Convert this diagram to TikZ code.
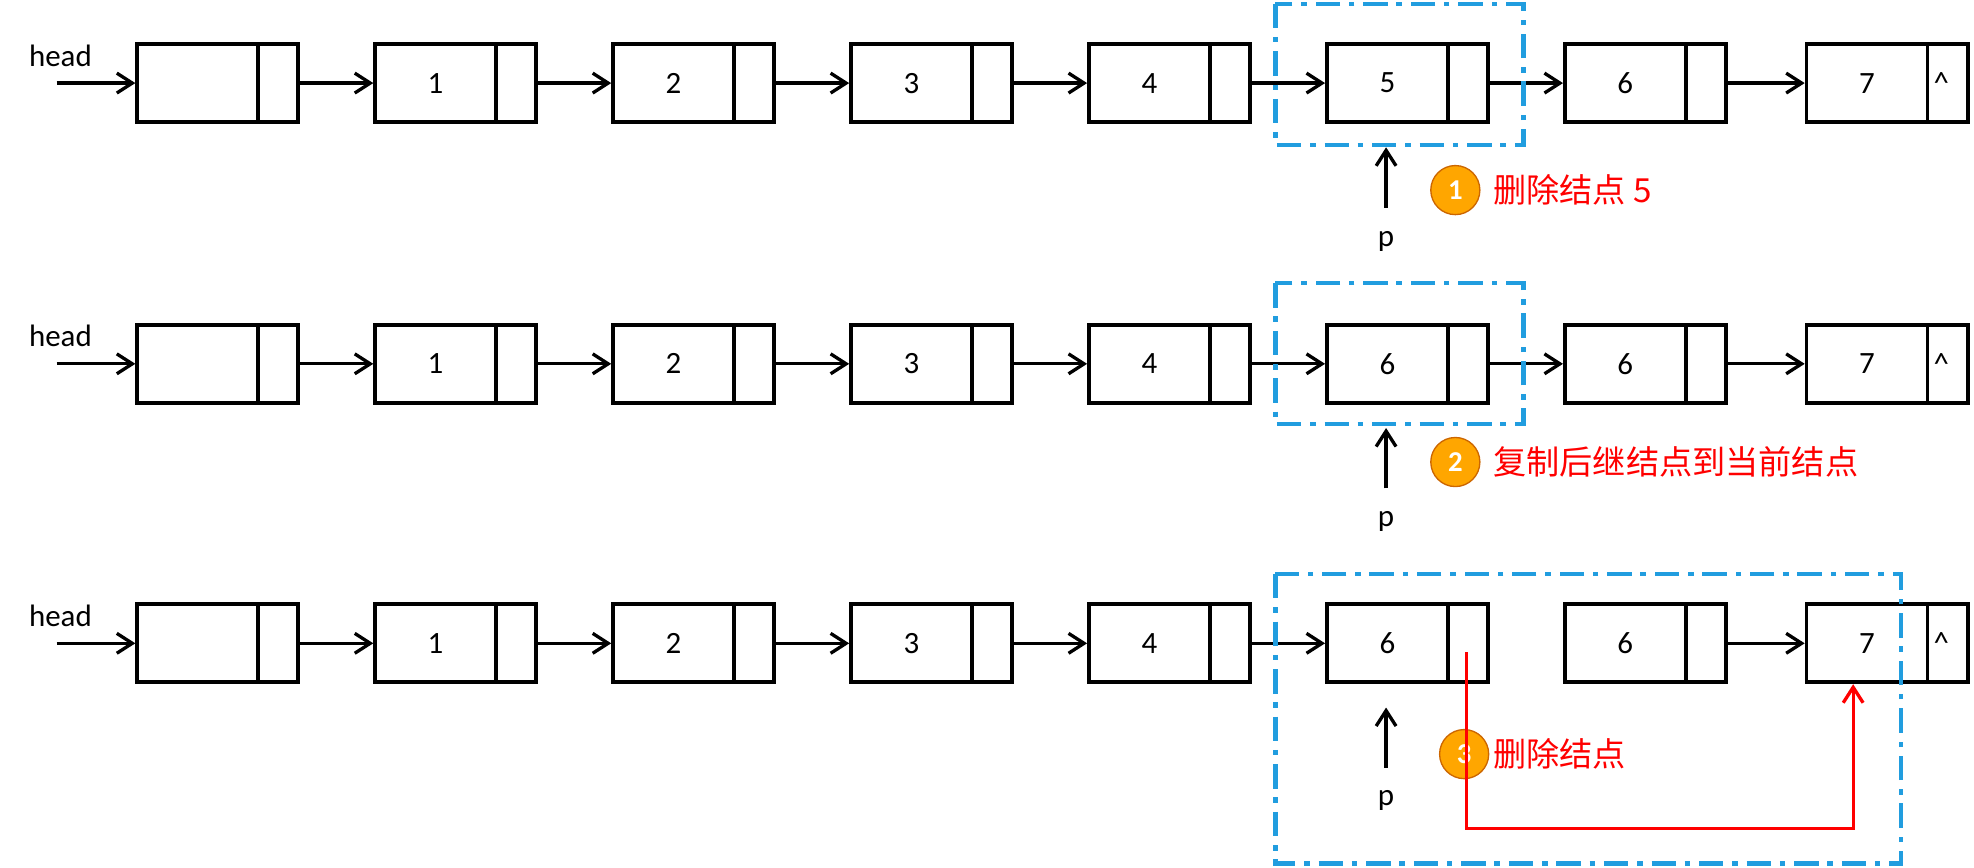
\documentclass[tikz,border=0pt]{standalone}
\usepackage{fontspec}
\setmainfont{Carlito}
\newfontfamily\cjk{Noto Sans CJK SC}
\usetikzlibrary{arrows.meta}
\begin{document}
\begin{tikzpicture}[x=0.02cm,y=-0.02cm,
  box/.style={draw,line width=1.7pt,minimum width=2.56cm,minimum height=1.24cm,inner sep=0pt},
  lnk/.style={line width=1.5pt,-{Straight Barb[length=7pt,width=9pt,line width=1.5pt]}},
  frame/.style={draw=cyan!80!blue!90,line width=2pt,dash pattern=on 11pt off 4pt on 2.5pt off 4pt},
  num/.style={circle,fill=orange!70!yellow,draw=orange!80!black,line width=0.6pt,minimum size=0.78cm,inner sep=0pt,text=white,font=\fontsize{13}{15}\selectfont\bfseries},
  note/.style={text=red,anchor=west,font=\cjk\fontsize{15}{18}\selectfont},
  txt/.style={font=\fontsize{14}{16}\selectfont}]
\useasboundingbox (0,0) rectangle (1568,689);
\foreach \r/\y/\fifth in {1/66/5,2/289/6,3/511/6}{
  \node[txt] (hd\r) at (48,\y-22) {head};
  \coordinate (hs\r) at (45,\y);
  \node[box] (r\r n0) at (173,\y) {};
  \draw[line width=1.7pt] (205,\y-31) -- (205,\y+31);
  \draw[lnk] (hs\r) -- (r\r n0.west);
  \foreach \i/\t in {1/1,2/2,3/3,4/4,5/\fifth,6/6,7/7}{
    \pgfmathsetmacro\cx{362+189*(\i-1)-(\i==7?-3:0)}
    \node[box] (r\r n\i) at (\cx,\y) {};
    \draw[line width=1.7pt] (\cx+32,\y-31) -- (\cx+32,\y+31);
    \node[txt] (t\r n\i) at (\cx-16,\y) {\t};
  }
  \node[txt] (caret\r) at (1542,\y) {\textasciicircum};
  \foreach \a/\b in {0/1,1/2,2/3,3/4,4/5,6/7}{\draw[lnk] (r\r n\a.east) -- (r\r n\b.west);}
}
\draw[lnk] (r1n5.east) -- (r1n6.west);
\draw[lnk] (r2n5.east) -- (r2n6.west);
% frames
\draw[frame] (1013,3) rectangle (1210,115);
\draw[frame] (1013,225) rectangle (1210,337);
\draw[frame] (1013,456) rectangle (1510,686);
% p pointers
\foreach \r/\ya/\yp in {1/117/192,2/340/414,3/562/636}{
  \node[txt] (p\r) at (1101,\yp) {p};
  \draw[lnk] (1101,\ya+48) -- (1101,\ya);
}
\node[num] (c1) at (1156,151) {1};
\node[note] (n1) at (1180,151) {删除结点 5};
\node[num] (c2) at (1156,367) {2};
\node[note] (n2) at (1180,367) {复制后继结点到当前结点};
\node[num] (c3) at (1163,599) {3};
\node[note] (n3) at (1180,599) {删除结点};
\coordinate (rs) at (1165,518);
\draw[red,line width=1.5pt,-{Straight Barb[length=7pt,width=9pt,line width=1.5pt]}] (rs) |- (1472,658) -- (r3n7.south -| 1472,0);
\end{tikzpicture}
\end{document}
